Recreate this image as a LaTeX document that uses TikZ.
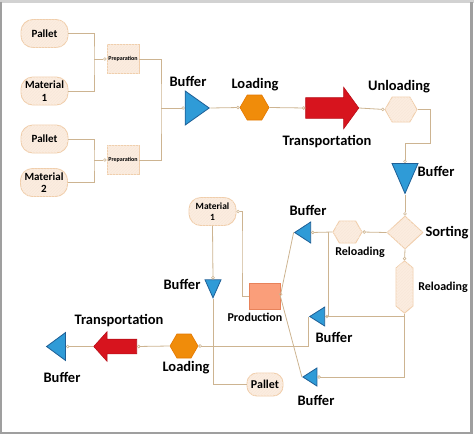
\documentclass[tikz,border=0pt]{standalone}
\usepackage{fontspec}
\setmainfont{Carlito}
\usetikzlibrary{shapes.geometric,shapes.symbols,shapes.arrows,arrows.meta,patterns}
\definecolor{conncol}{RGB}{205,180,145}
\definecolor{lightfill}{RGB}{252,237,224}
\definecolor{lightdraw}{RGB}{240,205,170}
\definecolor{bluef}{RGB}{47,155,215}
\definecolor{blued}{RGB}{30,95,150}
\definecolor{orangef}{RGB}{240,140,10}
\definecolor{oranged}{RGB}{228,120,0}
\definecolor{redf}{RGB}{215,20,30}
\definecolor{redd}{RGB}{185,15,25}
\definecolor{salmonf}{RGB}{250,158,122}
\definecolor{salmond}{RGB}{232,130,90}
\tikzset{
  conn/.style={draw=conncol, line width=0.8pt},
  ci/.style={-{Circle[open,length=3.4pt,width=3.4pt,line width=0.6pt]}},
  ic/.style={{Circle[open,length=3.4pt,width=3.4pt,line width=0.6pt]}-},
  hatch/.style={postaction={pattern=north east lines, pattern color=lightdraw!45}},
  pill/.style={draw=lightdraw, line width=0.9pt, fill=lightfill, rounded corners=12pt,
    minimum width=47pt, minimum height=28pt, inner sep=0, align=center,
    font=\fontsize{11}{12.5}\selectfont\bfseries, hatch},
  prepbox/.style={rectangle, draw=lightdraw, line width=0.9pt, fill=lightfill,
    minimum width=32pt, minimum height=29pt, inner sep=0,
    font=\fontsize{6}{7}\selectfont\bfseries, hatch},
  buf/.style={isosceles triangle, isosceles triangle stretches, fill=bluef,
    draw=blued, line width=0.8pt, inner sep=0},
  hexo/.style={signal, signal to=east and west, signal pointer angle=120,
    fill=orangef, draw=oranged, line width=0.6pt, inner sep=0},
  hexl/.style={signal, signal pointer angle=120, fill=lightfill,
    draw=lightdraw, line width=0.9pt, inner sep=0, hatch},
  dia/.style={diamond, fill=lightfill, draw=lightdraw, line width=0.9pt,
    inner sep=0, minimum width=36pt, minimum height=33pt, hatch},
  bigarrow/.style={single arrow, fill=redf, draw=redd, line width=0.6pt,
    inner sep=0, single arrow head indent=0pt},
  lab/.style={font=\fontsize{14.5}{16}\selectfont\bfseries, inner sep=0},
  slab/.style={font=\fontsize{12}{14}\selectfont\bfseries, inner sep=0},
}
\begin{document}
\begin{tikzpicture}[x=1pt,y=-1pt]
\useasboundingbox (0,0) rectangle (474,437);
% frame
\draw[line width=3pt, gray!35] (0,1.5) -- (474,1.5);
\draw[line width=2.2pt, gray!75] (1.1,1.5) -- (1.1,433) -- (471.5,433) -- (471.5,1.5);

% nodes
\node[pill] (p1) at (44.5,33.5) {Pallet};
\node[pill] (m1) at (44.5,91) {Material\\1};
\node[pill] (p2) at (44.5,139) {Pallet};
\node[pill] (m2) at (44,182.5) {Material\\2};
\node[prepbox] (prep1) at (123,59) {Preparation};
\node[prepbox] (prep2) at (123,160) {Preparation};
\node[buf, shape border rotate=0, minimum width=34pt, minimum height=24pt] (buf1) at (194,108) {};
\node[hexo, minimum width=29pt, minimum height=25pt] (load1) at (254.5,107.5) {};
\node[bigarrow, minimum height=53pt, single arrow head extend=10.5pt, single arrow tip angle=108] (tr1) at (328.5,108) {\rule{0pt}{20pt}};
\node[hexl, signal to=east and west, minimum width=32pt, minimum height=25pt] (unl) at (401,109.5) {};
\node[buf, shape border rotate=270, minimum width=26pt, minimum height=30pt] (buf2) at (405,172) {};
\node[dia] (sort) at (405,232.5) {};
\node[hexl, signal to=east and west, minimum width=29pt, minimum height=22pt] (rel1) at (347.5,232) {};
\node[buf, shape border rotate=180, minimum width=21pt, minimum height=16pt] (buf3) at (305,232.5) {};
\node[hexl, signal to=north and south, signal pointer angle=100, minimum width=17pt, minimum height=38pt] (rel2) at (404.5,287) {};
\node[buf, shape border rotate=180, minimum width=19pt, minimum height=15pt] (buf4) at (319.5,316.5) {};
\node[buf, shape border rotate=180, minimum width=18pt, minimum height=14pt] (buf5) at (312,377) {};
\node[rectangle, fill=salmonf, draw=salmond, line width=0.6pt, minimum width=31pt, minimum height=26pt, inner sep=0] (prod) at (264.5,296) {};
\node[pill, font=\fontsize{9.5}{11.5}\selectfont\bfseries] (mat1b) at (212.5,211.5) {Material\\1};
\node[buf, shape border rotate=270, minimum width=16pt, minimum height=18pt] (buf6) at (213,285) {};
\node[pill, minimum width=36pt, minimum height=23pt, rounded corners=10pt, font=\fontsize{12}{13}\selectfont\bfseries] (pal2) at (265,384.5) {Pallet};
\node[hexo, minimum width=28pt, minimum height=24pt] (load2) at (184,346) {};
\node[bigarrow, shape border rotate=180, minimum height=43pt, single arrow head extend=7.5pt, single arrow tip angle=96] (tr2) at (118.5,346.5) {\rule{0pt}{14pt}};
\node[buf, shape border rotate=180, minimum width=28pt, minimum height=19pt] (buf7) at (58.5,346.5) {};

% labels
\node[lab] at (188,81) {Buffer};
\node[lab] at (255,85) {Loading};
\node[lab] at (399,86.5) {Unloading};
\node[lab] at (327,141.5) {Transportation};
\node[lab] at (436,171) {Buffer};
\node[lab] at (308,210) {Buffer};
\node[lab] at (447,232.5) {Sorting};
\node[slab] at (360,252.5) {Reloading};
\node[slab] at (443,287.5) {Reloading};
\node[lab] at (182,284.5) {Buffer};
\node[slab] at (255,317.5) {Production};
\node[lab] at (334,337) {Buffer};
\node[lab] at (186,368) {Loading};
\node[lab] at (316,400.5) {Buffer};
\node[lab] at (119,321) {Transportation};
\node[lab] at (62,377) {Buffer};

% junction coordinates
\coordinate (j1) at (94,59);
\coordinate (j2) at (94,160);
\coordinate (j3) at (161,108);
\coordinate (c1) at (430,143);
\coordinate (j4) at (328,232);
\coordinate (j5) at (405,316.5);
\coordinate (c2) at (242,250);

% connectors
\draw[conn] (p1.east) -| (j1) |- (m1.east);
\draw[conn, ci] (j1) -- (prep1.west);
\draw[conn] (p2.east) -| (j2) |- (m2.east);
\draw[conn, ci] (j2) -- (prep2.west);
\draw[conn] (prep1.east) -| (j3) |- (prep2.east);
\draw[conn, ci] (j3) -- (buf1.west);
\draw[conn, ci] (buf1.east) -- (load1.west);
\draw[conn, ci] (load1.east) -- (tr1.tail);
\draw[conn, ci] (tr1.tip) -- (unl.west);
\draw[conn, ci] (unl.east) -| (c1) -| (buf2.north);
\draw[conn, ci] (buf2.south) -- (sort.north);
\draw[conn, ci] (sort.west) -- (rel1.east);
\draw[conn, ci] (rel1.west) -- (buf3.east);
\draw[conn] (j4) |- (buf4.east);
\draw[conn, ci] (sort.south) -- (rel2.north);
\draw[conn, ci] (rel2.south) |- (buf5.east);
\draw[conn, ci] (j5) -- (buf4.east);
\draw[conn, ic] (mat1b.east) -| (c2) |- (prod.west);
\draw[conn, ci] (mat1b.south) -- (buf6.north);
\draw[conn] (buf6.south) |- (pal2.west);
\draw[conn, ic] (prod.east) -- (buf3.west);
\draw[conn] (prod.east) -- (buf5.west);
\draw[conn, ic] (load2.east) -| (buf4.west);
\draw[conn, ci] (load2.west) -- (tr2.tail);
\draw[conn, ci] (tr2.tip) -- (buf7.east);
\end{tikzpicture}
\end{document}
